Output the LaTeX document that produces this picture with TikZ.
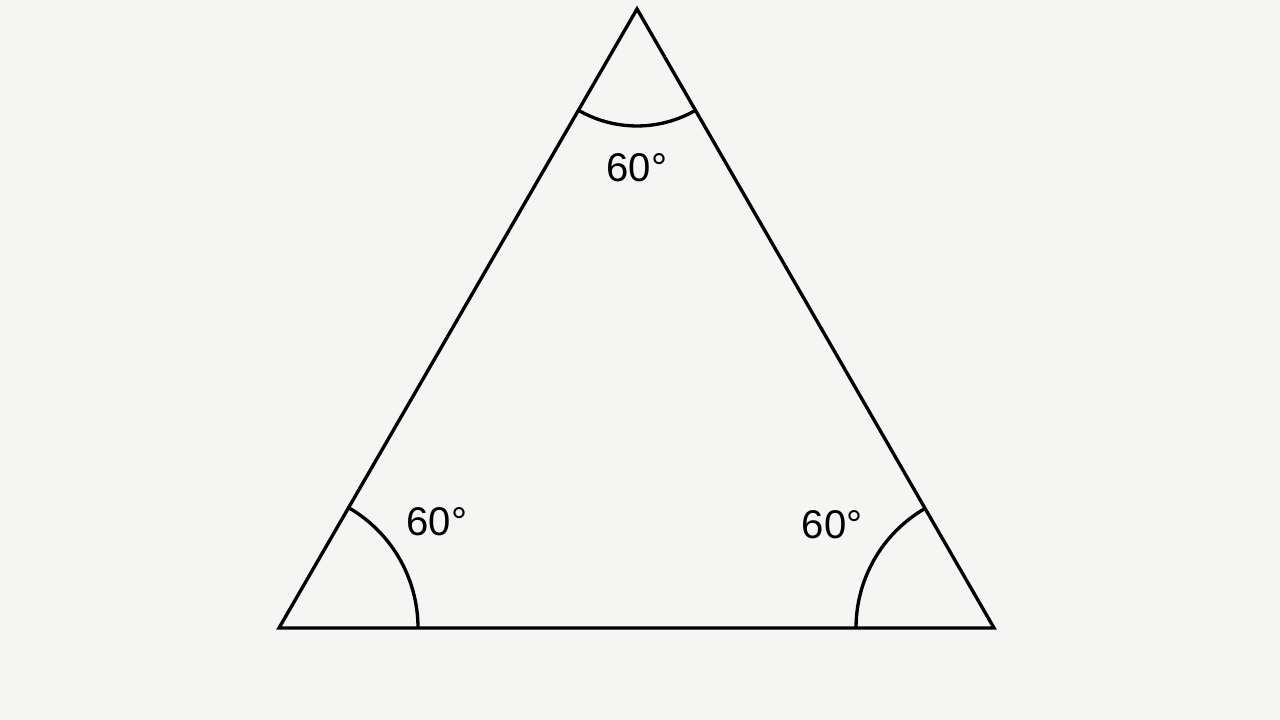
\documentclass[tikz,border=0pt]{standalone}
\usepackage{fontspec}
\setmainfont{Liberation Sans}
\usepackage{tikz}

\definecolor{paper}{RGB}{245,245,244}

\begin{document}
\begin{tikzpicture}[line width=0.95pt, every node/.style={font=\fontsize{11.4}{13}\selectfont, inner sep=0pt}]
  \fill[paper] (0,0) rectangle (12.8,7.2);
  \useasboundingbox (0,0) rectangle (12.8,7.2);

  \coordinate (A) at (2.79,0.92);
  \coordinate (B) at (9.94,0.92);
  \coordinate (C) at (6.37,7.11);

  \draw (A) -- (B) -- (C) -- cycle;

  \draw ([shift={(0:1.39)}]A) arc (0:60:1.39);
  \draw ([shift={(180:1.38)}]B) arc (180:120:1.38);
  \draw ([shift={(240:1.17)}]C) arc (240:300:1.17);

  \node (angA) at (4.37,1.98) {60°};
  \node (angB) at (8.32,1.95) {60°};
  \node (angC) at (6.37,5.52) {60°};
\end{tikzpicture}
\end{document}
